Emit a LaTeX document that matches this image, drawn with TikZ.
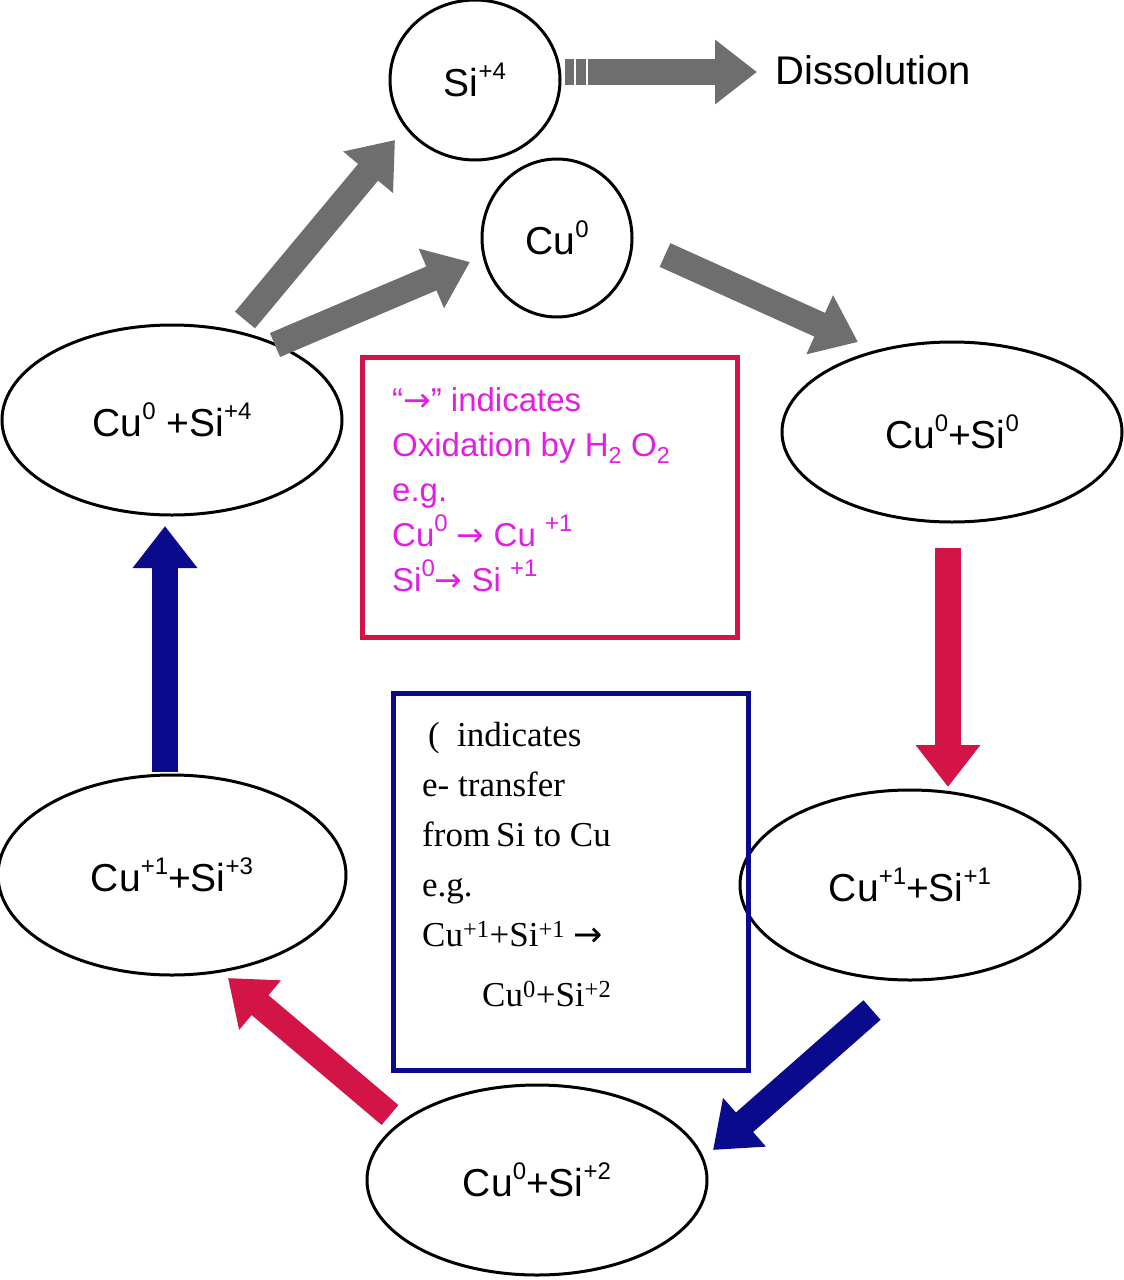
\documentclass[tikz,border=0pt]{standalone}
\usepackage{fontspec}
\setmainfont{Liberation Sans}
\newfontfamily\serif{Liberation Serif}
\newfontfamily\djv{DejaVu Sans}
\usetikzlibrary{arrows.meta,shapes.geometric}
\definecolor{grayA}{RGB}{110,110,110}
\definecolor{redA}{RGB}{210,20,70}
\definecolor{blueA}{RGB}{10,10,140}
\definecolor{magA}{RGB}{225,30,225}
\newcommand{\su}[1]{\raisebox{0.45em}{\fontsize{24}{26}\selectfont #1}}
\newcommand{\ar}{{\djv →}}
\begin{document}
\begin{tikzpicture}[x=1pt,y=-1pt,
 st/.style={draw,ellipse,line width=3pt,inner sep=0pt,font=\fontsize{39}{42}\selectfont},
 arr/.style={line width=26pt,-{Triangle[length=42pt,width=62pt]}},
 ga/.style={arr,draw=grayA},ra/.style={arr,draw=redA},ba/.style={arr,draw=blueA}]
\useasboundingbox (0,0) rectangle (1124,1280);
\node[st,minimum width=170pt,minimum height=160pt] (si4) at (475,80) {Si\su{+4}};
\node[st,minimum width=150pt,minimum height=158pt] (cu0) at (557,238) {Cu\su{0}};
\node[st,minimum width=340pt,minimum height=190pt] (a) at (172,420) {Cu\su{0} +Si\su{+4}};
\node[st,minimum width=340pt,minimum height=180pt] (b) at (952,432) {Cu\su{0}+Si\su{0}};
\node[st,minimum width=340pt,minimum height=190pt] (c) at (910,885) {Cu\su{+1}+Si\su{+1}};
\node[st,minimum width=348pt,minimum height=200pt] (d) at (172,875) {Cu\su{+1}+Si\su{+3}};
\node[st,minimum width=340pt,minimum height=190pt] (e) at (537,1180) {Cu\su{0}+Si\su{+2}};
\node[font=\fontsize{40}{42}\selectfont,anchor=west] (dis) at (772,70) {Dissolution};
\coordinate (p1) at (245,320); \coordinate (p2) at (395,140);
\coordinate (p3) at (275,345); \coordinate (p4) at (470,262);
\coordinate (p5) at (665,255); \coordinate (p6) at (858,342);
\coordinate (p7) at (565,72); \coordinate (p8) at (757,72);
\draw[ga] (p1) -- (p2);
\draw[ga] (p3) -- (p4);
\draw[ga] (p5) -- (p6);
\draw[ga] (p7) -- (p8);
\foreach \x in {575,587}{\draw[white,line width=2pt] (\x,58) -- (\x,86);}
\coordinate (q1) at (948,548); \coordinate (q2) at (948,787);
\draw[ra] (q1) -- (q2);
\coordinate (q3) at (872,1010); \coordinate (q4) at (713,1150);
\draw[ba] (q3) -- (q4);
\coordinate (q5) at (390,1115); \coordinate (q6) at (228,978);
\draw[ra] (q5) -- (q6);
\coordinate (q7) at (165,772); \coordinate (q8) at (165,526);
\draw[ba] (q7) -- (q8);
\node[draw=redA,line width=5pt,minimum width=375pt,minimum height=280pt] (rb) at (549.5,497) {};
\node[anchor=north west,align=left,text=magA,font=\fontsize{33}{45}\selectfont,inner sep=0pt] (rt) at (392,387)
 {“\ar” indicates\\ Oxidation by H\textsubscript{2} O\textsubscript{2}\\ e.g.\\ Cu\su{0} \ar{} Cu \su{+1}\\ Si\su{0}\ar{} Si \su{+1}};
\node[draw=blueA,line width=5pt,minimum width=355pt,minimum height=377pt] (bb) at (570.5,881.5) {};
\node[anchor=north west,align=left,font=\serif\fontsize{35}{50}\selectfont,inner sep=0pt] (bt) at (422,722)
 {\,(\enspace indicates\\ e- transfer\\ from\,Si to Cu\\ e.g.\\ Cu\textsuperscript{+1}+Si\textsuperscript{+1} {\djv →}\\[10pt] \hspace{60pt}Cu\textsuperscript{0}+Si\textsuperscript{+2}};
\end{tikzpicture}
\end{document}
